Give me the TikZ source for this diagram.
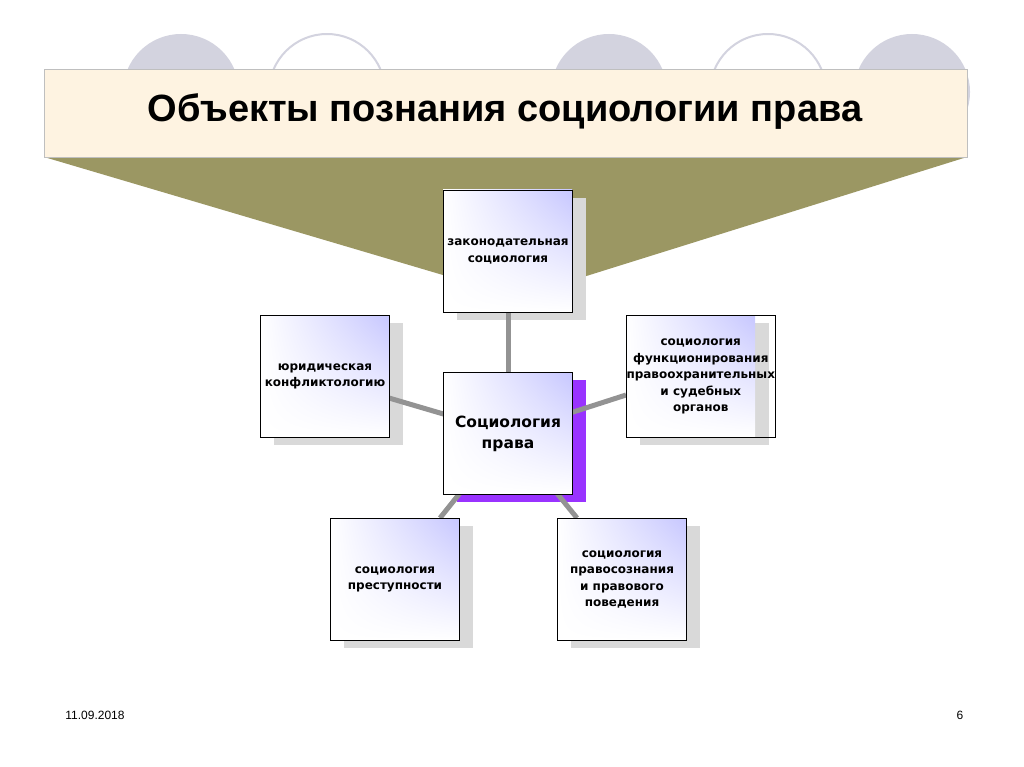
\documentclass[tikz,border=0pt]{standalone}
\usepackage{fontspec}
\setmainfont{Liberation Sans}
\newfontfamily\boxfont{DejaVu Sans}
\usetikzlibrary{shadings}
\definecolor{purp}{HTML}{9933FF}
\begin{document}
\begin{tikzpicture}[x=1pt,y=-1pt,
  bx/.style={draw=black,line width=1pt,minimum width=129pt,minimum height=122pt,inner sep=0pt,anchor=north west,align=center,font=\boxfont\bfseries\fontsize{12}{16.5}\selectfont},
  conn/.style={draw=gray!85,line width=5pt}]
\useasboundingbox (0,0) rectangle (1024,767);
\fill[white] (0,0) rectangle (1024,767);
% circles
\foreach \cx/\f in {181/1,327/0,609/1,768/0,912/1}{
  \ifnum\f=1 \fill[blue!15!gray!30] (\cx,92) circle (58);
  \else \draw[blue!15!gray!30,line width=2pt] (\cx,92) circle (58); \fi}
\fill[white] (0,0) rectangle (1024,33);
% trapezoid
\fill[olive!40!gray!90] (44,157) -- (967,157) -- (580,278) -- (453,278) -- cycle;
\fill[yellow!12!orange!10!white] (44,69) rectangle (967,157);
\draw[gray!50] (44,69) rectangle (967,157);
\node[font=\bfseries\fontsize{38}{44}\selectfont] (title) at (505,112) {Объекты познания социологии права};
% shadows
\foreach \x/\y in {457/198,274/323,640/323,344/526,571/526}{
  \fill[gray!30] (\x,\y) rectangle ++(129,122);}
\fill[purp] (457,380) rectangle ++(129,122);
% connectors
\coordinate (c) at (508,433);
\draw[conn] (c) -- (508,312);
\draw[conn] (c) -- (389,398);
\draw[conn] (c) -- (626,395);
\draw[conn] (c) -- (440,518);
\draw[conn] (c) -- (577,518);
% boxes
\foreach \x/\y in {443/190,260/315,626/315,443/372,330/518,557/518}{
  \fill[white] (\x,\y) rectangle ++(129,122);
  \shade[upper right=blue!22,upper left=white,lower left=white,lower right=white] (\x,\y) rectangle ++(129,122);}
\node[bx] (top) at (443,190) {законодательная\\социология};
\node[bx] (left) at (260,315) {юридическая\\конфликтологию};
\node[bx] (right) at (626,315) {социология\\функционирования\\правоохранительных\\и судебных\\органов};
\node[bx,font=\boxfont\bfseries\fontsize{15.5}{21}\selectfont] (cen) at (443,372) {Социология\\права};
\node[bx] (bl) at (330,518) {социология\\преступности};
\node[bx] (br) at (557,518) {социология\\правосознания\\и правового\\поведения};
\node[font=\fontsize{12}{14}\selectfont] (date) at (95,715) {11.09.2018};
\node[font=\fontsize{12}{14}\selectfont] (pg) at (960,715) {6};
\end{tikzpicture}
\end{document}
